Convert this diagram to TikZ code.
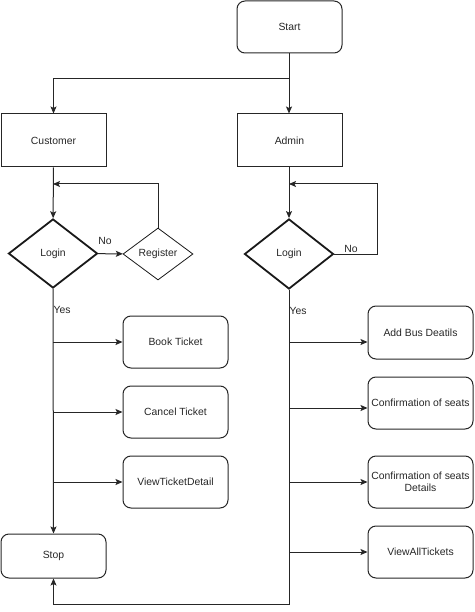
\documentclass[tikz,border=0pt]{standalone}
\usepackage{fontspec}
\setmainfont{Liberation Sans}
\usetikzlibrary{shapes.geometric,arrows.meta}
\begin{document}
\begin{tikzpicture}[x=1pt,y=-1pt,
  font=\fontsize{10.4}{12.5}\selectfont,
  box/.style={draw=black!85, line width=1pt, minimum width=105pt, minimum height=53pt, inner sep=1pt, align=center, text=black!85},
  rbox/.style={box, rounded corners=8pt},
  dec/.style={diamond, draw=black!90, aspect=1.3, inner sep=0pt, text=black!85},
  arr/.style={-{Stealth[length=7pt,width=6pt,inset=1.5pt]}, line width=1pt, draw=black!85},
  ln/.style={line width=1pt, draw=black!85},
  lbl/.style={inner sep=0pt, text=black!85}]
\useasboundingbox (0,0) rectangle (474,612);
\begin{scope}
\clip (0,0) rectangle (474,612);
% nodes
\node[rbox, minimum height=52pt] (start) at (289.5,27) {Start};
\node[box] (cust) at (53.5,140.5) {Customer};
\node[box] (adm) at (289.5,140.5) {Admin};
\node[dec, minimum width=89pt, minimum height=69pt, line width=1.8pt] (log1) at (53,253.5) {Login};
\node[dec, minimum width=70pt, minimum height=52pt, line width=0.8pt] (reg) at (158,254) {Register};
\node[dec, minimum width=89pt, minimum height=70pt, line width=1.8pt] (log2) at (289,254) {Login};
\node[rbox, minimum height=52pt] (book) at (175.5,342) {Book Ticket};
\node[rbox, minimum height=52pt] (cancel) at (175.5,412) {Cancel Ticket};
\node[rbox, minimum height=52pt] (view) at (175.5,482) {ViewTicketDetail};
\node[rbox, minimum height=44pt] (stop) at (53.5,556) {Stop};
\node[rbox] (addbus) at (420.5,332.5) {Add Bus Deatils};
\node[rbox, minimum height=52pt] (conf) at (420.5,403) {Confirmation of seats};
\node[rbox, minimum height=52pt] (confd) at (420.5,482) {Confirmation of seats\\Details};
\node[rbox, minimum height=52pt] (viewall) at (420.5,552) {ViewAllTickets};
% labels
\node[lbl] (no1) at (105,241) {No};
\node[lbl] (no2) at (351,248.5) {No};
\node[lbl] (yes1) at (62,310) {Yes};
\node[lbl] (yes2) at (298,311) {Yes};
% coordinates
\coordinate (j1) at (289,79);
\coordinate (c1) at (53,184);
\coordinate (c2) at (289,184);
\coordinate (n2) at (377,254);
\coordinate (b0) at (289,604);
\coordinate (r1) at (289,342);
\coordinate (r2) at (289,408);
\coordinate (r3) at (289,482);
\coordinate (r4) at (289,552);
% connectors
\draw[arr] (start.south -| j1) -- (adm.north -| j1);
\draw[arr] (j1) -| (cust.north);
\draw[arr] (cust) -- (log1);
\draw[arr] (log1) -- (reg);
\draw[arr] (reg.north) |- (c1);
\draw[arr] (log1.south) -- (stop.north);
\draw[arr] (log1.south |- book.west) -- (book.west);
\draw[arr] (log1.south |- cancel.west) -- (cancel.west);
\draw[arr] (log1.south |- view.west) -- (view.west);
\draw[arr] (adm.south -| log2) -- (log2.north);
\draw[arr] (log2.east) -- (n2) |- (c2);
\draw[arr] (log2.south) -- (b0) -| (stop.south);
\draw[arr] (r1) -- (addbus.west |- r1);
\draw[arr] (r2) -- (conf.west |- r2);
\draw[arr] (r3) -- (confd.west |- r3);
\draw[arr] (r4) -- (viewall.west |- r4);
\end{scope}
\end{tikzpicture}
\end{document}
